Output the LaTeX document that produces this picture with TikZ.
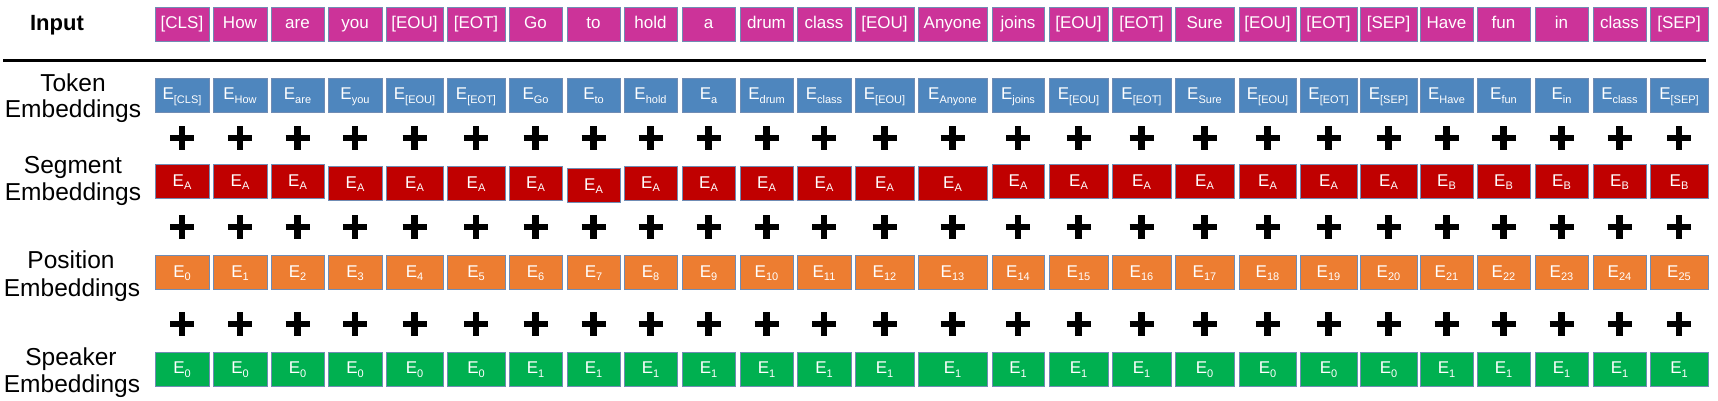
\documentclass[tikz,border=0pt]{standalone}
\usepackage{fontspec}
\setmainfont{Liberation Sans}
\definecolor{cin}{RGB}{204,51,153}
\definecolor{ctok}{RGB}{78,134,190}
\definecolor{cseg}{RGB}{192,0,0}
\definecolor{cpos}{RGB}{237,125,49}
\definecolor{cspk}{RGB}{0,176,80}
\definecolor{boxline}{RGB}{112,140,180}
\newcommand\Esb[1]{E\raisebox{-3.5pt}{\fontsize{11}{11}\selectfont #1}}
\begin{document}
\begin{tikzpicture}[x=1pt,y=-1pt,
  box/.style={draw=boxline, line width=0.8pt, minimum height=34pt, inner sep=0pt, outer sep=0pt,
    text=white, font=\fontsize{17}{17}\selectfont, text height=12.5pt, text depth=3.5pt},
  plusn/.style={minimum width=24pt, minimum height=24pt, inner sep=0pt, outer sep=0pt},
  plusline/.style={line width=6.5pt, black},
  lbl/.style={anchor=base, inner sep=0pt, font=\fontsize{24.5}{24.5}\selectfont},
  lblb/.style={anchor=base, inner sep=0pt, font=\fontsize{22}{22}\selectfont\bfseries}]
\useasboundingbox (0,0) rectangle (1718,400);
% labels
\node[lblb] (lin) at (57,30) {Input};
\node[lbl] (ltoka) at (73,91) {Token};
\node[lbl] (ltokb) at (73,117) {Embeddings};
\node[lbl] (lsega) at (73,173) {Segment};
\node[lbl] (lsegb) at (73,200) {Embeddings};
\node[lbl] (lposa) at (71,268) {Position};
\node[lbl] (lposb) at (72,296) {Embeddings};
\node[lbl] (lspka) at (71,365) {Speaker};
\node[lbl] (lspkb) at (72,392) {Embeddings};
% separator line
\coordinate (sepL) at (3,60);
\coordinate (sepR) at (1706,60);
\draw[line width=3pt] (sepL) -- (sepR);
\foreach \i/\xl/\xr/\w/\sg/\sp/\dy in {
1/155/209/{[CLS]}/A/0/0,
2/213/267/How/A/0/0,
3/271/324/are/A/0/0,
4/328/382/you/A/0/2,
5/386/443/{[EOU]}/A/0/2,
6/447/505/{[EOT]}/A/0/2,
7/509/562/Go/A/1/2,
8/567/620/to/A/1/4,
9/624/677/hold/A/1/2,
10/682/735/a/A/1/2,
11/740/793/drum/A/1/2,
12/797/851/class/A/1/2,
13/855/914/{[EOU]}/A/1/2,
14/918/987/Anyone/A/1/2,
15/992/1044/joins/A/1/0,
16/1049/1108/{[EOU]}/A/1/0,
17/1112/1171/{[EOT]}/A/1/0,
18/1175/1234/Sure/A/0/0,
19/1239/1296/{[EOU]}/A/0/0,
20/1300/1357/{[EOT]}/A/0/0,
21/1360/1417/{[SEP]}/A/0/0,
22/1420/1473/Have/B/1/0,
23/1477/1530/fun/B/1/0,
24/1535/1588/in/B/1/0,
25/1593/1646/class/B/1/0,
26/1650/1708/{[SEP]}/B/1/0}{
  \pgfmathsetmacro\xc{(\xl+\xr)/2}
  \pgfmathsetmacro\bw{\xr-\xl}
  \pgfmathtruncatemacro\p{\i-1}
  \node[box, fill=cin, minimum width=\bw pt] (in\i) at (\xc,24) {\w};
  \node[box, fill=ctok, minimum width=\bw pt] (tok\i) at (\xc,95) {\Esb{\w}};
  \node[box, fill=cseg, minimum width=\bw pt] (seg\i) at (\xc,181.5+\dy) {\Esb{\sg}};
  \node[box, fill=cpos, minimum width=\bw pt] (pos\i) at (\xc,272.5) {\Esb{\p}};
  \node[box, fill=cspk, minimum width=\bw pt] (spk\i) at (\xc,369) {\Esb{\sp}};
  \node[plusn] (pa\i) at (\xc,138) {};
  \node[plusn] (pb\i) at (\xc,227) {};
  \node[plusn] (pc\i) at (\xc,324) {};
  \draw[plusline] (pa\i.west) -- (pa\i.east) (pa\i.north) -- (pa\i.south);
  \draw[plusline] (pb\i.west) -- (pb\i.east) (pb\i.north) -- (pb\i.south);
  \draw[plusline] (pc\i.west) -- (pc\i.east) (pc\i.north) -- (pc\i.south);
}
\end{tikzpicture}
\end{document}
